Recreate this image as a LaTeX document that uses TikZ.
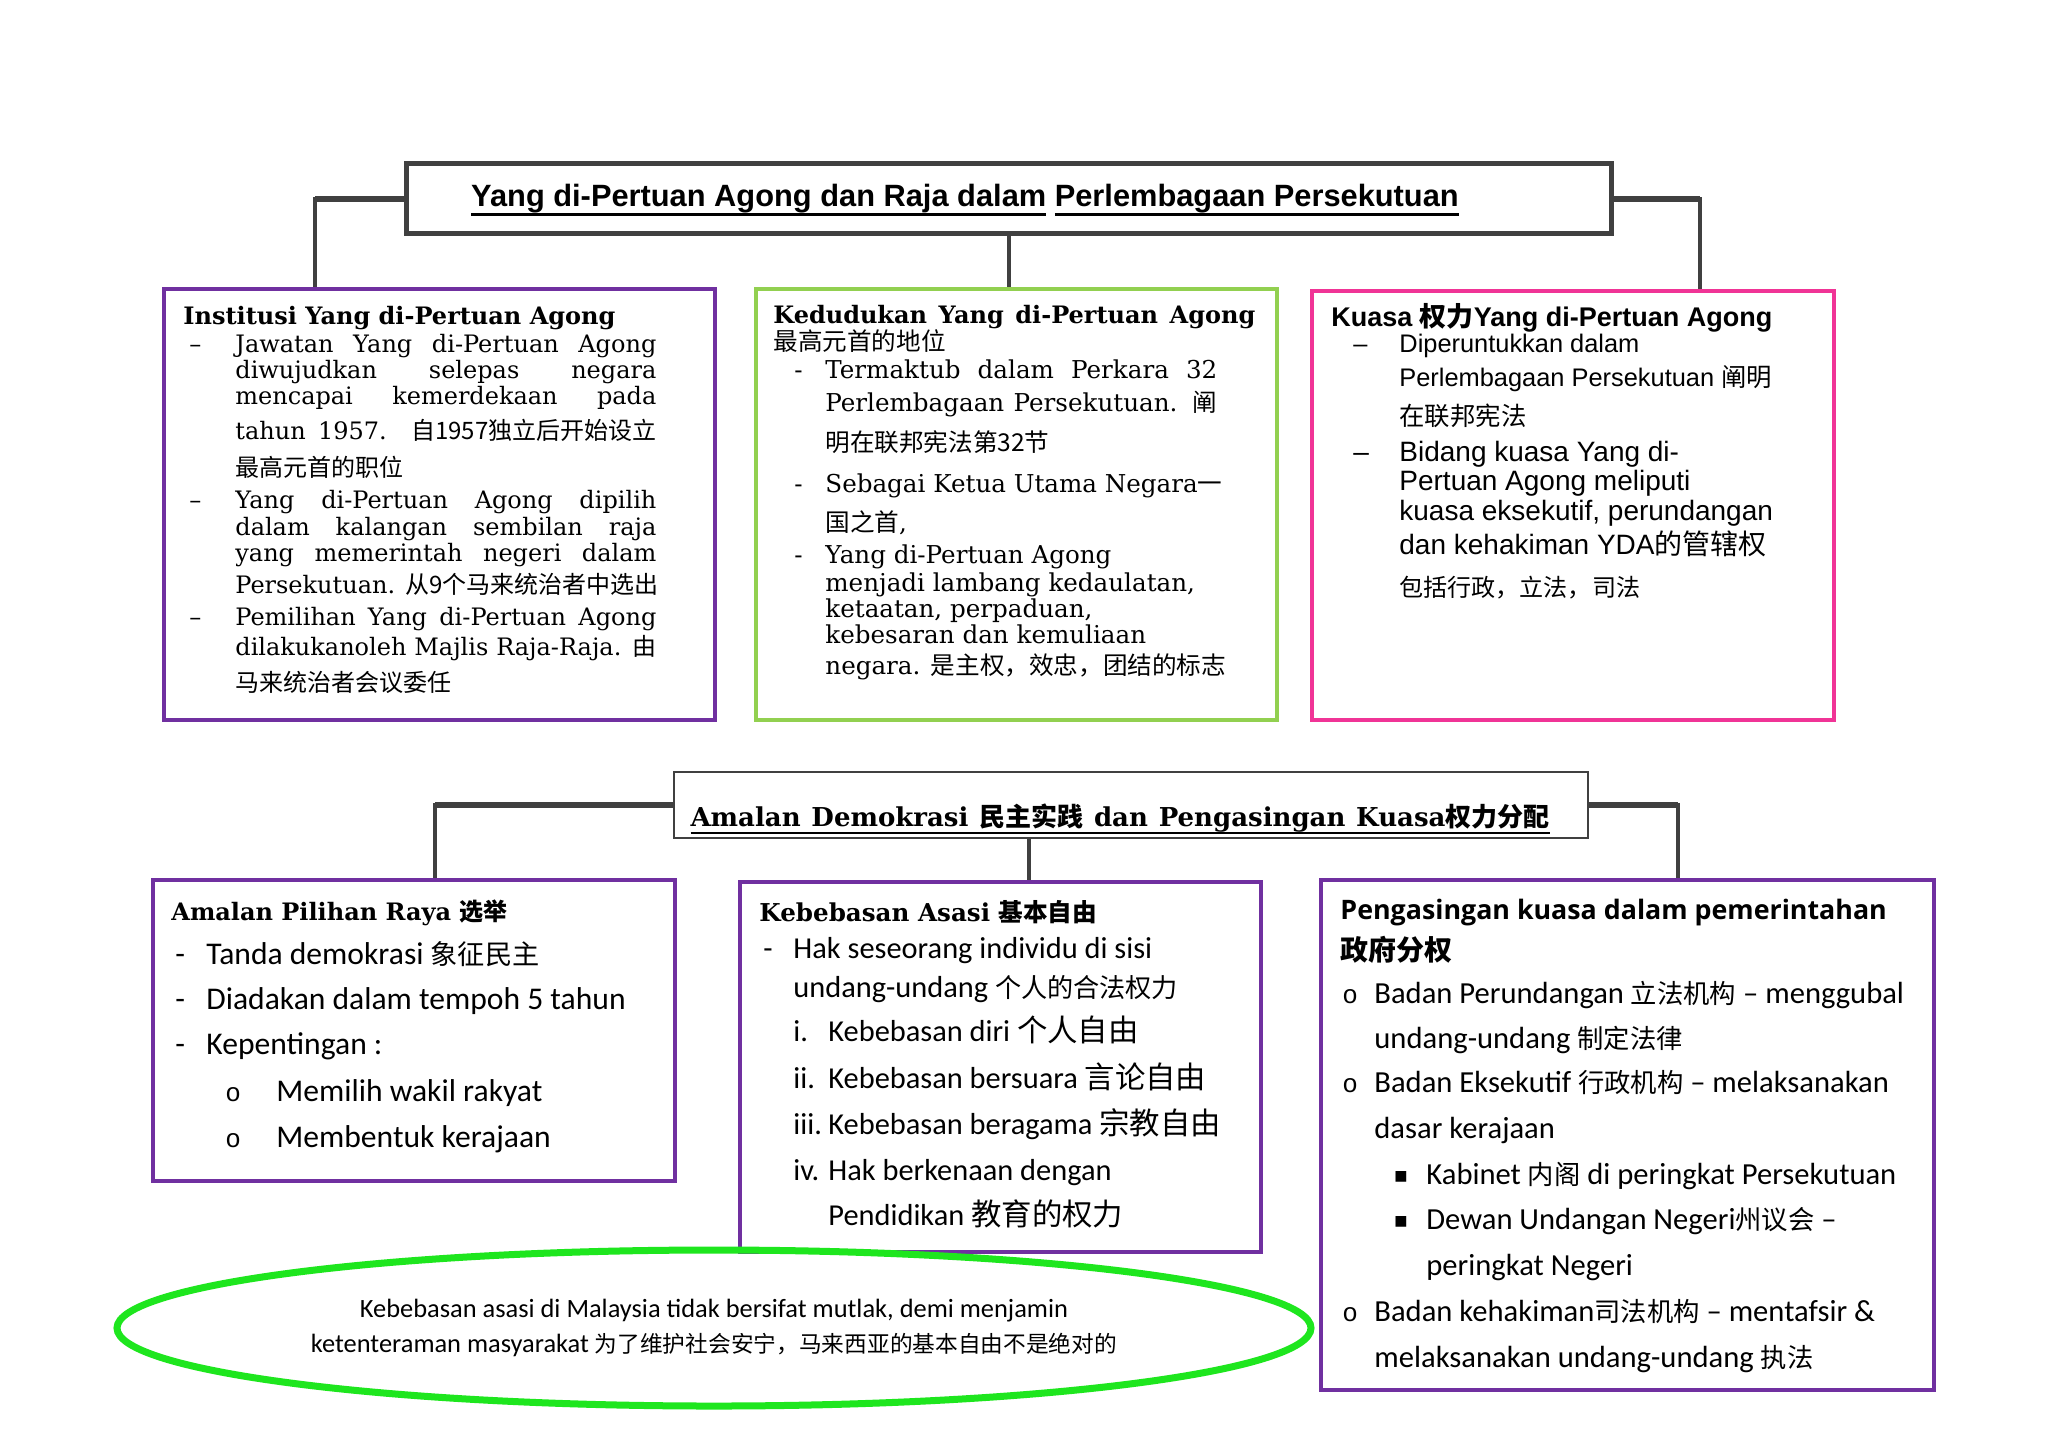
\documentclass[tikz,border=0pt]{standalone}
\usepackage{fontspec}
\setmainfont{DejaVu Serif}
\newfontfamily\cjk{Noto Sans CJK SC}
\newfontfamily\cjkn{Noto Sans CJK SC}[Scale=0.86]
\newfontfamily\arialf{Liberation Sans}
\newfontfamily\calib{Carlito}
\newfontfamily\osans{Open Sans}
\newfontfamily\monof{Liberation Mono}
\newfontfamily\djs{DejaVu Sans}
\usetikzlibrary{calc,shapes.geometric}
\definecolor{purp}{RGB}{112,48,160}
\definecolor{lgreen}{RGB}{146,208,80}
\definecolor{pinkc}{RGB}{240,52,150}
\definecolor{elgreen}{RGB}{30,230,30}
\definecolor{dgray}{RGB}{64,64,64}
\newcommand\jl[2]{\makebox[#1][s]{#2}}
\newcommand\myul[3]{\setbox0\hbox{#3}\rlap{\rule[#1]{\wd0}{#2}}\box0}
\newcommand\tline[5][]{\node[txt,#1] (#2) at (#3,#4) {#5};}
\newcommand\circb{{\monof\fontsize{13}{13}\selectfont o}}
\newcommand\sqb{{\djs\fontsize{7}{7}\selectfont ■}}
\begin{document}
\begin{tikzpicture}[x=0.5pt,y=-0.5pt,
  txt/.style={inner sep=0pt, anchor=base west},
  box/.style={draw, line width=2.2pt, fill=white, inner sep=0pt, anchor=north west},
  conn/.style={draw=dgray, line width=1.7pt},
  connh/.style={draw=dgray, line width=3pt},
  sbold/.style={font=\bfseries\fontsize{12}{12}\selectfont}
]
\path[fill=white] (0,0) rectangle (2048,1448);
\useasboundingbox (0,0) rectangle (2048,1448);

% ---------- boxes ----------
\node[box, draw=dgray, line width=2.5pt, minimum width=602.5pt, minimum height=35pt] (t1) at (404,161) {};
\node[box, draw=purp, minimum width=275.5pt, minimum height=215.5pt] (b1) at (162,287) {};
\node[box, draw=lgreen, minimum width=260.5pt, minimum height=215.5pt] (b2) at (754,287) {};
\node[box, draw=pinkc, minimum width=261pt, minimum height=214.5pt] (b3) at (1310,289) {};
\node[box, draw=dgray, line width=0.9pt, minimum width=457pt, minimum height=33pt] (t2) at (673,771) {};
\node[box, draw=purp, minimum width=261pt, minimum height=150.5pt] (b4) at (151,878) {};
\node[box, draw=purp, minimum width=260.5pt, minimum height=185pt] (b5) at (738,880) {};
\node[box, draw=purp, minimum width=306.5pt, minimum height=255pt] (b6) at (1319,878) {};

% ---------- connectors ----------
\coordinate (c1) at (315,287);
\coordinate (c3) at (1700,289);
\coordinate (c4) at (435,878);
\coordinate (c5) at (1029,880);
\coordinate (c6) at (1678,878);
\draw[conn] (t1.west) -| (c1);
\draw[connh] (t1.west) -- (t1.west -| c1);
\draw[conn] (t1.south) -- (t1.south |- b2.north);
\draw[conn] (t1.east) -| (c3);
\draw[connh] (t1.east) -- (t1.east -| c3);
\draw[conn] (t2.west) -| (c4);
\draw[connh] (t2.west) -- (t2.west -| c4);
\draw[conn] (t2.south -| c5) -- (c5);
\draw[conn] (t2.east) -| (c6);
\draw[connh] (t2.east) -- (t2.east -| c6);

% ---------- titles ----------
\node[inner sep=0pt, anchor=base, font=\arialf\bfseries\fontsize{15.4}{15.4}\selectfont] (t1txt) at (965,206)
  {\myul{-5pt}{1.4pt}{Yang di-Pertuan Agong dan Raja dalam}\ \myul{-5pt}{1.4pt}{Perlembagaan Persekutuan}};
\node[inner sep=0pt, anchor=base, font=\bfseries\fontsize{13}{13}\selectfont] (t2txt) at (1120,826)
  {\myul{-4pt}{1pt}{\makebox[429.5pt][s]{Amalan Demokrasi {\cjk 民主实践} dan Pengasingan Kuasa{\cjk 权力分配}}}};

% ---------- box 1 ----------
\begin{scope}[every node/.append style={font=\fontsize{12}{12}\selectfont}]
\tline[sbold]{b1h}{183}{324}{Institusi Yang di-Pertuan Agong}
\tline{b1d1}{189}{352}{–}
\tline{b1l1}{235}{352}{\jl{210.5pt}{Jawatan Yang di-Pertuan Agong}}
\tline{b1l2}{235}{378}{\jl{210.5pt}{diwujudkan selepas negara}}
\tline{b1l3}{235}{404}{\jl{210.5pt}{mencapai kemerdekaan pada}}
\tline{b1l4}{235}{439}{\jl{210.5pt}{tahun 1957. {\cjk 自1957独立后开始设立}}}
\tline{b1l5}{235}{476}{\cjk 最高元首的职位}
\tline{b1d2}{189}{508}{–}
\tline{b1l6}{235}{508}{\jl{210.5pt}{Yang di-Pertuan Agong dipilih}}
\tline{b1l7}{235}{535}{\jl{210.5pt}{dalam kalangan sembilan raja}}
\tline{b1l8}{235}{561}{\jl{210.5pt}{yang memerintah negeri dalam}}
\tline{b1l9}{235}{593}{Persekutuan. {\cjk 从9个马来统治者中选出}}
\tline{b1d3}{189}{625}{–}
\tline{b1l10}{235}{625}{\jl{210.5pt}{Pemilihan Yang di-Pertuan Agong}}
\tline{b1l11}{235}{655}{\jl{210.5pt}{dilakukanoleh Majlis Raja-Raja. {\cjk 由}}}
\tline{b1l12}{235}{691}{\cjk 马来统治者会议委任}
\end{scope}

% ---------- box 2 ----------
\begin{scope}[every node/.append style={font=\fontsize{12.3}{12.3}\selectfont}]
\tline[sbold]{b2h}{773}{323}{\jl{241pt}{Kedudukan Yang di-Pertuan Agong}}
\tline{b2c}{773}{350}{\cjk 最高元首的地位}
\tline{b2d1}{794}{378}{-}
\tline{b2l1}{825}{378}{\jl{196pt}{Termaktub dalam Perkara 32}}
\tline{b2l2}{825}{411}{\jl{196pt}{Perlembagaan Persekutuan. {\cjk 阐}}}
\tline{b2l3}{825}{451}{\cjk 明在联邦宪法第32节}
\tline{b2d2}{794}{492}{-}
\tline{b2l4}{825}{492}{Sebagai Ketua Utama Negara{\cjk 一}}
\tline{b2l5}{825}{531}{{\cjk 国之首},}
\tline{b2d3}{794}{563}{-}
\tline{b2l6}{825}{563}{Yang di-Pertuan Agong}
\tline{b2l7}{825}{591}{menjadi lambang kedaulatan,}
\tline{b2l8}{825}{617}{ketaatan, perpaduan,}
\tline{b2l9}{825}{643}{kebesaran dan kemuliaan}
\tline{b2l10}{825}{674}{negara. {\cjk 是主权，效忠，团结的标志}}
\end{scope}

% ---------- box 3 ----------
\begin{scope}[every node/.append style={font=\arialf\fontsize{12.7}{12.7}\selectfont}]
\tline[font=\arialf\bfseries\fontsize{13.5}{13.5}\selectfont]{b3h}{1331}{326}{Kuasa {\cjk 权力}Yang di-Pertuan Agong}
\tline{b3d1}{1353}{352}{–}
\tline{b3l1}{1399}{352}{Diperuntukkan dalam}
\tline{b3l2}{1399}{386}{Perlembagaan Persekutuan {\cjk 阐明}}
\tline{b3l3}{1399}{425}{\cjk 在联邦宪法}
\end{scope}
\begin{scope}[every node/.append style={font=\arialf\fontsize{14}{14}\selectfont}]
\tline{b3d2}{1353}{461}{–}
\tline{b3l4}{1399}{461}{Bidang kuasa Yang di-}
\tline{b3l5}{1399}{490}{Pertuan Agong meliputi}
\tline{b3l6}{1399}{520}{kuasa eksekutif, perundangan}
\tline{b3l7}{1399}{554}{dan kehakiman YDA{\cjk 的管辖权}}
\tline{b3l8}{1399}{596}{{\cjkn 包括行政，立法，司法}}
\end{scope}

% ---------- box 4 ----------
\begin{scope}[every node/.append style={font=\calib\fontsize{15.8}{15.8}\selectfont}]
\tline[sbold]{b4h}{171}{920}{Amalan Pilihan Raya {\cjk 选举}}
\tline{b4d1}{175}{964}{-}
\tline{b4l1}{206}{964}{Tanda demokrasi {\cjkn 象征民主}}
\tline{b4d2}{175}{1009}{-}
\tline{b4l2}{206}{1009}{Diadakan dalam tempoh 5 tahun}
\tline{b4d3}{175}{1054}{-}
\tline{b4l3}{206}{1054}{Kepentingan :}
\tline{b4o1}{225}{1101}{\circb}
\tline{b4l4}{276}{1101}{Memilih wakil rakyat}
\tline{b4o2}{225}{1147}{\circb}
\tline{b4l5}{276}{1147}{Membentuk kerajaan}
\end{scope}

% ---------- box 5 ----------
\begin{scope}[every node/.append style={font=\calib\fontsize{15.2}{15.2}\selectfont}]
\tline[font=\bfseries\fontsize{12.3}{12.3}\selectfont]{b5h}{759}{921}{Kebebasan Asasi {\cjk 基本自由}}
\tline{b5d1}{763}{958}{-}
\tline{b5l1}{793}{958}{Hak seseorang individu di sisi}
\tline{b5l2}{793}{997}{undang-undang {\cjkn 个人的合法权力}}
\tline{b5r1}{793}{1041}{i.}
\tline{b5l3}{828}{1041}{Kebebasan diri {\cjk 个人自由}}
\tline{b5r2}{793}{1088}{ii.}
\tline{b5l4}{828}{1088}{Kebebasan bersuara {\cjk 言论自由}}
\tline{b5r3}{793}{1134}{iii.}
\tline{b5l5}{828}{1134}{Kebebasan beragama {\cjk 宗教自由}}
\tline{b5r4}{793}{1180}{iv.}
\tline{b5l6}{828}{1180}{Hak berkenaan dengan}
\tline{b5l7}{828}{1225}{Pendidikan {\cjk 教育的权力}}
\end{scope}

% ---------- box 6 ----------
\begin{scope}[every node/.append style={font=\calib\fontsize{15.3}{15.3}\selectfont}]
\tline[font=\osans\bfseries\fontsize{13.4}{13.4}\selectfont]{b6h}{1340}{919}{Pengasingan kuasa dalam pemerintahan}
\tline[font=\cjk\bfseries\fontsize{14}{14}\selectfont]{b6c}{1340}{960}{政府分权}
\tline{b6o1}{1342}{1003}{\circb}
\tline{b6l1}{1374}{1003}{Badan Perundangan {\cjkn 立法机构} – menggubal}
\tline{b6l2}{1374}{1048}{undang-undang {\cjkn 制定法律}}
\tline{b6o2}{1342}{1092}{\circb}
\tline{b6l3}{1374}{1092}{Badan Eksekutif {\cjkn 行政机构} – melaksanakan}
\tline{b6l4}{1374}{1138}{dasar kerajaan}
\tline{b6s1}{1394}{1180}{\sqb}
\tline{b6l5}{1426}{1184}{Kabinet {\cjkn 内阁} di peringkat Persekutuan}
\tline{b6s2}{1394}{1225}{\sqb}
\tline{b6l6}{1426}{1229}{Dewan Undangan Negeri{\cjkn 州议会} –}
\tline{b6l7}{1426}{1275}{peringkat Negeri}
\tline{b6o3}{1342}{1321}{\circb}
\tline{b6l8}{1374}{1321}{Badan kehakiman{\cjkn 司法机构} – mentafsir \&}
\tline{b6l9}{1374}{1367}{melaksanakan undang-undang {\cjkn 执法}}
\end{scope}

% ---------- ellipse ----------
\node[draw=elgreen, line width=3.5pt, ellipse, inner sep=0pt, minimum width=597pt, minimum height=78pt] (el) at (714,1328) {};
\node[inner sep=0pt, anchor=base, font=\calib\fontsize{13.2}{13.2}\selectfont] (e1) at (714,1317)
  {Kebebasan asasi di Malaysia tidak bersifat mutlak, demi menjamin};
\node[inner sep=0pt, anchor=base, font=\calib\fontsize{13.2}{13.2}\selectfont] (e2) at (714,1352)
  {ketenteraman masyarakat {\cjkn 为了维护社会安宁，马来西亚的基本自由不是绝对的}};
\end{tikzpicture}
\end{document}
